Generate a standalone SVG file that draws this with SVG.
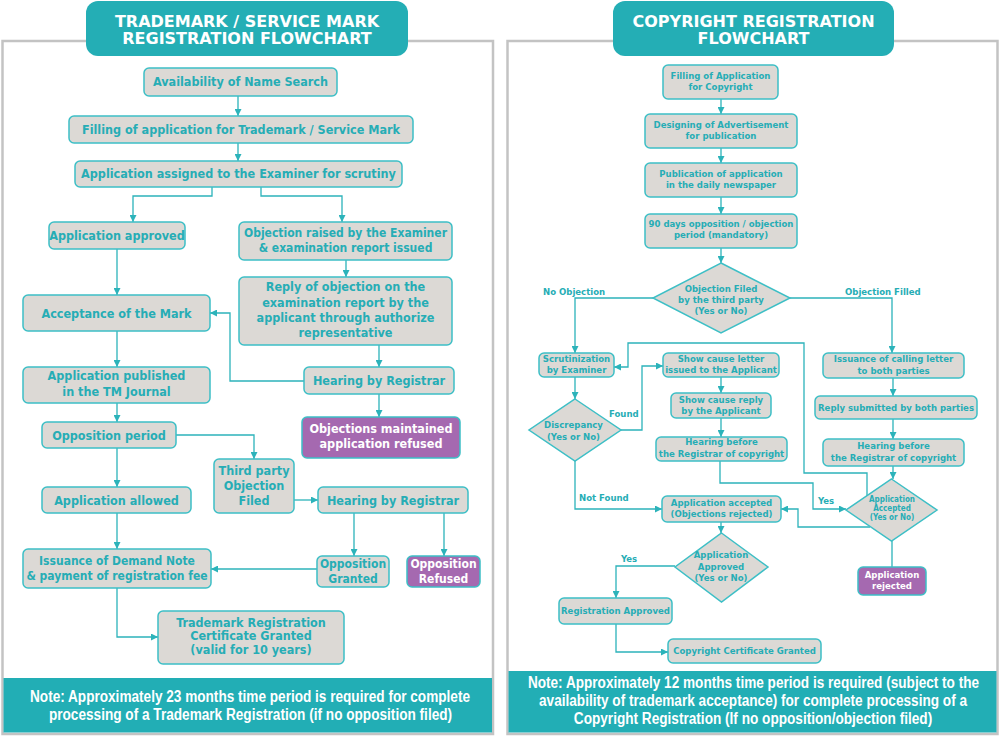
<svg xmlns="http://www.w3.org/2000/svg" width="1000" height="736" viewBox="0 0 1000 736">
<style>
.bg{fill:#ffffff}
.panel{fill:none;stroke:#c3c3c3;stroke-width:2.5}
.hdr{fill:#24aeb5}
.hdrt{font-family:"DejaVu Sans",Verdana,sans-serif;font-weight:bold;font-size:16px;fill:#ffffff;text-anchor:middle}
.note{fill:#22aeb5}
.notet{font-family:"Liberation Sans",Arial,sans-serif;font-weight:bold;font-size:17px;fill:#ffffff;text-anchor:middle}
.n rect,.n polygon{fill:#dcd9d5;stroke:#3dbfc6;stroke-width:1.5}
.p rect{fill:#a569b0;stroke:#3dbfc6;stroke-width:1.5}
.t{font-family:"DejaVu Sans Condensed","DejaVu Sans",Tahoma,sans-serif;font-stretch:condensed;font-weight:bold;fill:#26adb5;text-anchor:middle}
.w{fill:#ffffff}
.L{font-size:12.5px}
.M{font-size:12px}
.S{font-size:9.5px}
.X{font-size:8px}
.lbl{font-family:"DejaVu Sans Condensed","DejaVu Sans",Tahoma,sans-serif;font-stretch:condensed;font-weight:bold;fill:#26adb5;font-size:9.5px}
.c path{fill:none;stroke:#2cb3ba;stroke-width:1.3}
.c .a{marker-end:url(#ah)}
</style>
<defs>
<marker id="ah" markerUnits="userSpaceOnUse" markerWidth="7" markerHeight="7" refX="7" refY="3.5" orient="auto">
<path d="M0,0 L7,3.5 L0,7 z" fill="#2cb3ba"/>
</marker>
</defs>
<rect class="bg" x="0" y="0" width="1000" height="736"/>

<!-- panels -->
<rect class="panel" x="2.5" y="41" width="490.5" height="693"/>
<rect class="panel" x="507.5" y="41" width="490" height="693"/>

<g id="header-left">
<rect class="hdr" x="86" y="1" width="322" height="55" rx="12"/>
<text class="hdrt" x="247" y="26.5">TRADEMARK / SERVICE MARK</text>
<text class="hdrt" x="247" y="43.5">REGISTRATION FLOWCHART</text>
</g>
<g id="header-right">
<rect class="hdr" x="613" y="1" width="281" height="55" rx="12"/>
<text class="hdrt" x="753.5" y="26.5">COPYRIGHT REGISTRATION</text>
<text class="hdrt" x="753.5" y="43.5">FLOWCHART</text>
</g>

<!-- connectors -->
<g class="c" id="connectors">
<path class="a" d="M238,96 V116"/>
<path class="a" d="M238,143 V161"/>
<path class="a" d="M212,187 V196 H133 V222"/>
<path class="a" d="M261,187 V196 H342 V222"/>
<path class="a" d="M117,249 V295"/>
<path class="a" d="M346,260 V277"/>
<path class="a" d="M379,345 V367"/>
<path class="a" d="M379,394 V417"/>
<path class="a" d="M304,381 H230 V313 H210"/>
<path class="a" d="M117,331 V367"/>
<path class="a" d="M117,403 V422"/>
<path class="a" d="M176,435 H254 V459"/>
<path class="a" d="M117,448 V487"/>
<path class="a" d="M117,513 V549"/>
<path class="a" d="M294,500 H318"/>
<path class="a" d="M354,513 V556"/>
<path class="a" d="M444,513 V556"/>
<path class="a" d="M317,569 H211"/>
<path class="a" d="M117,588 V637 H158"/>

<path class="a" d="M721,99 V114"/>
<path class="a" d="M721,148 V163"/>
<path class="a" d="M721,197 V214"/>
<path class="a" d="M721,248 V263"/>
<path class="a" d="M653,298 H575 V353"/>
<path class="a" d="M790,298 H892 V353"/>
<path class="a" d="M575,377 V399"/>
<path class="a" d="M621,430 H642 V366 H663"/>
<path class="a" d="M721,377 V393"/>
<path class="a" d="M721,418 V437"/>
<path class="a" d="M893,378 V396"/>
<path class="a" d="M893,419 V439"/>
<path class="a" d="M893,466 V479"/>
<path class="a" d="M575,461 V509 H662"/>
<path class="a" d="M720,461 V483 H813 V509 H846"/>
<path class="a" d="M867,496 V473 H804 V343 H628 V367 H614"/>
<path class="a" d="M870,527 H798 V509 H781"/>
<path d="M892,541 V567"/>
<path class="a" d="M721,522 V533"/>
<path class="a" d="M675,566 H616 V598"/>
<path class="a" d="M616,624 V652 H668"/>
</g>

<!-- left nodes -->
<g id="tm-name-search" class="n"><rect x="144" y="68" width="193" height="28" rx="5"/><text class="t L" x="240.5" y="86">Availability of Name Search</text></g>
<g id="tm-filing" class="n"><rect x="69" y="116" width="344" height="27" rx="5"/><text class="t L" x="241" y="134">Filling of application for Trademark / Service Mark</text></g>
<g id="tm-assigned" class="n"><rect x="75" y="161" width="327" height="26" rx="5"/><text class="t L" x="238.5" y="178">Application assigned to the Examiner for scrutiny</text></g>
<g id="tm-approved" class="n"><rect x="49" y="222" width="136" height="27" rx="5"/><text class="t L" x="117" y="240">Application approved</text></g>
<g id="tm-objection" class="n"><rect x="239" y="222" width="213" height="38" rx="5"/><text class="t M" x="345.5" y="236.5">Objection raised by the Examiner</text><text class="t M" x="345.5" y="251.5">&amp; examination report issued</text></g>
<g id="tm-acceptance" class="n"><rect x="23" y="295" width="187" height="36" rx="5"/><text class="t L" x="116.5" y="317.5">Acceptance of the Mark</text></g>
<g id="tm-reply" class="n"><rect x="239" y="277" width="213" height="68" rx="5"/><text class="t L" x="345.5" y="291">Reply of objection on the</text><text class="t L" x="345.5" y="306.5">examination report by the</text><text class="t L" x="345.5" y="322">applicant through authorize</text><text class="t L" x="345.5" y="337">representative</text></g>
<g id="tm-hearing1" class="n"><rect x="304" y="367" width="150" height="27" rx="5"/><text class="t L" x="379" y="385">Hearing by Registrar</text></g>
<g id="tm-published" class="n"><rect x="23" y="367" width="187" height="36" rx="5"/><text class="t L" x="116.5" y="380">Application published</text><text class="t L" x="116.5" y="395.5">in the TM Journal</text></g>
<g id="tm-refused" class="p"><rect x="302" y="417" width="158" height="41" rx="5"/><text class="t L w" x="381" y="432.7">Objections maintained</text><text class="t L w" x="381" y="447.7">application refused</text></g>
<g id="tm-opposition" class="n"><rect x="42" y="422" width="134" height="26" rx="5"/><text class="t L" x="109" y="439.5">Opposition period</text></g>
<g id="tm-third-party" class="n"><rect x="214" y="459" width="80" height="54" rx="5"/><text class="t L" x="254" y="474.5">Third party</text><text class="t L" x="254" y="489.5">Objection</text><text class="t L" x="254" y="504.5">Filed</text></g>
<g id="tm-allowed" class="n"><rect x="42" y="487" width="149" height="26" rx="5"/><text class="t L" x="116.5" y="504.5">Application allowed</text></g>
<g id="tm-hearing2" class="n"><rect x="318" y="487" width="150" height="26" rx="5"/><text class="t L" x="393" y="504.5">Hearing by Registrar</text></g>
<g id="tm-demand" class="n"><rect x="23" y="549" width="188" height="39" rx="5"/><text class="t M" x="117" y="564.5">Issuance of Demand Note</text><text class="t M" x="117" y="579.5">&amp; payment of registration fee</text></g>
<g id="tm-opp-granted" class="n"><rect x="317" y="556" width="72" height="31" rx="5"/><text class="t M" x="353" y="567.7">Opposition</text><text class="t M" x="353" y="582.7">Granted</text></g>
<g id="tm-opp-refused" class="p"><rect x="407" y="556" width="73" height="31" rx="5"/><text class="t M w" x="443.5" y="567.7">Opposition</text><text class="t M w" x="443.5" y="582.7">Refused</text></g>
<g id="tm-certificate" class="n"><rect x="158" y="611" width="186" height="53" rx="5"/><text class="t L" x="251" y="626.5">Trademark Registration</text><text class="t L" x="251" y="640">Certificate Granted</text><text class="t L" x="251" y="653.5">(valid for 10 years)</text></g>

<!-- right nodes -->
<g id="cr-filing" class="n"><rect x="663" y="65" width="115" height="34" rx="5"/><text class="t S" x="720.5" y="78.6">Filling of Application</text><text class="t S" x="720.5" y="90">for Copyright</text></g>
<g id="cr-design" class="n"><rect x="645" y="114" width="152" height="34" rx="5"/><text class="t S" x="721" y="128">Designing of Advertisement</text><text class="t S" x="721" y="138.6">for publication</text></g>
<g id="cr-publication" class="n"><rect x="645" y="163" width="152" height="34" rx="5"/><text class="t S" x="721" y="176.6">Publication of application</text><text class="t S" x="721" y="187.6">in the daily newspaper</text></g>
<g id="cr-90days" class="n"><rect x="645" y="214" width="152" height="34" rx="5"/><text class="t S" x="721" y="227">90 days opposition / objection</text><text class="t S" x="721" y="238.3">period (mandatory)</text></g>
<g id="cr-objection-filed" class="n"><polygon points="721,263 790,298 721,333 653,298"/><text class="t S" x="721" y="291.6">Objection Filed</text><text class="t S" x="721" y="303">by the third party</text><text class="t S" x="721" y="314">(Yes or No)</text></g>
<text class="lbl" x="543" y="294.5">No Objection</text>
<text class="lbl" x="845" y="294.5">Objection Filled</text>
<g id="cr-scrutiny" class="n"><rect x="539" y="353" width="75" height="24" rx="5"/><text class="t S" x="576.5" y="361.6">Scrutinization</text><text class="t S" x="576.5" y="373">by Examiner</text></g>
<g id="cr-showcause" class="n"><rect x="663" y="353" width="116" height="24" rx="5"/><text class="t S" x="721" y="361.6">Show cause letter</text><text class="t S" x="721" y="373">issued to the Applicant</text></g>
<g id="cr-reply" class="n"><rect x="671" y="393" width="100" height="25" rx="5"/><text class="t S" x="721" y="403.3">Show cause reply</text><text class="t S" x="721" y="414.3">by the Applicant</text></g>
<g id="cr-hearing1" class="n"><rect x="656" y="437" width="131" height="24" rx="5"/><text class="t S" x="721.5" y="445.3">Hearing before</text><text class="t S" x="721.5" y="456.6">the Registrar of copyright</text></g>
<g id="cr-calling" class="n"><rect x="823" y="353" width="141" height="25" rx="5"/><text class="t S" x="893.5" y="362.3">Issuance of calling letter</text><text class="t S" x="893.5" y="373.6">to both parties</text></g>
<g id="cr-reply-both" class="n"><rect x="815" y="396" width="162" height="23" rx="5"/><text class="t S" x="896" y="410.5">Reply submitted by both parties</text></g>
<g id="cr-hearing2" class="n"><rect x="823" y="439" width="141" height="27" rx="5"/><text class="t S" x="893.5" y="449.3">Hearing before</text><text class="t S" x="893.5" y="460.6">the Registrar of copyright</text></g>
<g id="cr-discrepancy" class="n"><polygon points="575,399 621,430 575,461 529,430"/><text class="t S" x="573.5" y="428.3">Discrepancy</text><text class="t S" x="573.5" y="439.6">(Yes or No)</text></g>
<text class="lbl" x="609" y="417.3">Found</text>
<text class="lbl" x="579" y="501.3">Not Found</text>
<text class="lbl" x="818" y="504.3">Yes</text>
<g id="cr-accepted" class="n"><rect x="662" y="496" width="119" height="26" rx="5"/><text class="t S" x="721.5" y="506.3">Application accepted</text><text class="t S" x="721.5" y="517">(Objections rejected)</text></g>
<g id="cr-app-accepted" class="n"><polygon points="891.5,479 937,510 891.5,541 846,510"/><text class="t X" x="892" y="501.5">Application</text><text class="t X" x="892" y="510.8">Accepted</text><text class="t X" x="892" y="519.8">(Yes or No)</text></g>
<g id="cr-rejected" class="p"><rect x="858" y="567" width="68" height="28" rx="5"/><text class="t S w" x="892" y="578">Application</text><text class="t S w" x="892" y="589">rejected</text></g>
<g id="cr-app-approved" class="n"><polygon points="721.5,533 768,567 721.5,602 675,567"/><text class="t S" x="721" y="558.3">Application</text><text class="t S" x="721" y="569.6">Approved</text><text class="t S" x="721" y="580.6">(Yes or No)</text></g>
<text class="lbl" x="621" y="562.3">Yes</text>
<g id="cr-reg-approved" class="n"><rect x="559" y="598" width="113" height="26" rx="5"/><text class="t S" x="615.5" y="614.3">Registration Approved</text></g>
<g id="cr-certificate" class="n"><rect x="668" y="639" width="153" height="24" rx="5"/><text class="t S" x="744.5" y="654.3">Copyright Certificate Granted</text></g>

<!-- notes -->
<g id="note-left">
<rect class="note" x="3.5" y="678" width="488.5" height="54.5"/>
<g transform="translate(250,701.5) scale(0.8,1)"><text class="notet" x="0" y="0" textLength="550" lengthAdjust="spacingAndGlyphs">Note: Approximately 23 months time period is required for complete</text></g>
<g transform="translate(250.5,720) scale(0.8,1)"><text class="notet" x="0" y="0" textLength="504" lengthAdjust="spacingAndGlyphs">processing of a Trademark Registration (if no opposition filed)</text></g>
</g>
<g id="note-right">
<rect class="note" x="508.5" y="671" width="488" height="61.5"/>
<g transform="translate(753.5,688) scale(0.8,1)"><text class="notet" x="0" y="0" textLength="564" lengthAdjust="spacingAndGlyphs">Note: Approximately 12 months time period is required (subject to the</text></g>
<g transform="translate(753,706) scale(0.8,1)"><text class="notet" x="0" y="0" textLength="535" lengthAdjust="spacingAndGlyphs">availability of trademark acceptance) for complete processing of a</text></g>
<g transform="translate(753,724) scale(0.8,1)"><text class="notet" x="0" y="0" textLength="448" lengthAdjust="spacingAndGlyphs">Copyright Registration (If no opposition/objection filed)</text></g>
</g>
</svg>
